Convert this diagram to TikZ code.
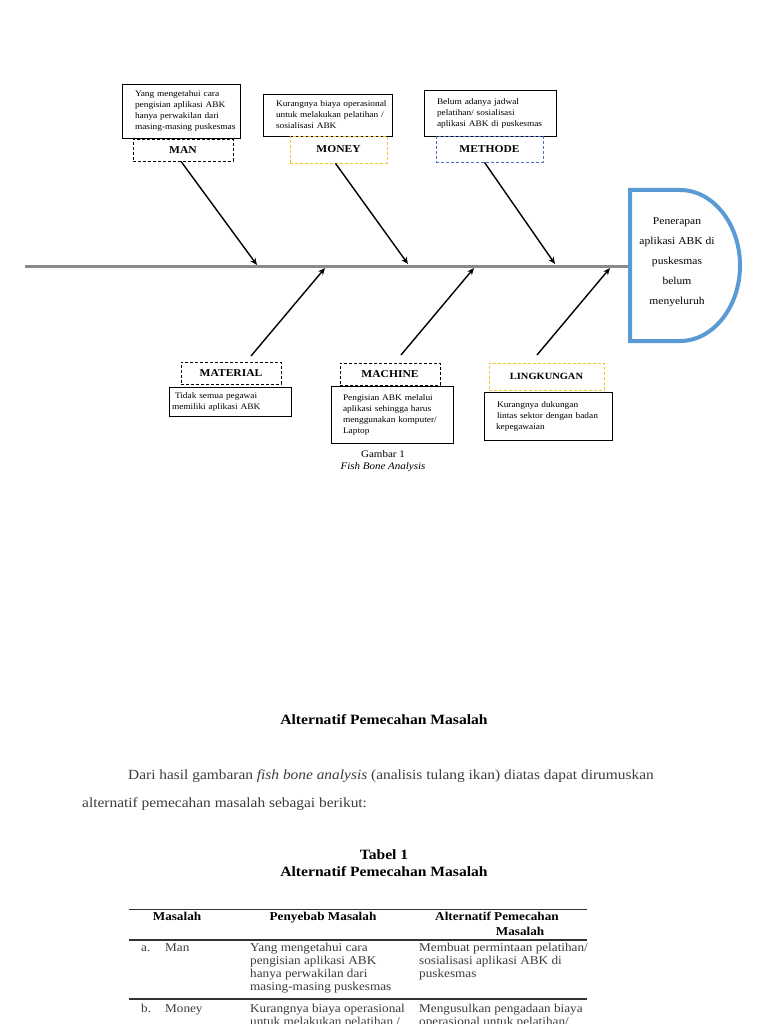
\documentclass[tikz,border=0pt]{standalone}
\usepackage{fontspec}
\setmainfont{Liberation Serif}[FakeStretch=1.1]
\usetikzlibrary{arrows.meta}
\definecolor{headblue}{HTML}{5B9BD5}
\definecolor{goldy}{HTML}{F5C531}
\definecolor{dblue}{HTML}{4A72C0}
\definecolor{spinegray}{HTML}{8A8A8A}
\definecolor{bodygray}{HTML}{3C3C3C}
\newcommand{\ind}[1]{\hspace*{#1pt}}
\tikzset{
  tbox/.style={draw, line width=0.8pt, align=left, inner ysep=2pt, inner xsep=1pt, font=\fontsize{8.5}{11}\selectfont},
  lbox/.style={draw, dashed, dash pattern=on 3pt off 2pt, line width=0.8pt, font=\fontsize{10.5}{12}\selectfont\bfseries, inner sep=0pt},
  bone/.style={draw=black, line width=1.4pt, -{Stealth[length=7pt,width=6pt]}},
  bodytext/.style={text=bodygray, font=\fontsize{14}{16}\selectfont, inner sep=0pt},
  ttext/.style={text=bodygray, font=\fontsize{12}{13}\selectfont, inner sep=0pt, align=left, anchor=north west},
  thead/.style={font=\fontsize{12}{13}\selectfont\bfseries, inner sep=0pt, anchor=base},
  trule/.style={line width=1pt, draw=black!80}
}
\begin{document}
\begin{tikzpicture}[x=1pt,y=-1pt]
\useasboundingbox (0,0) rectangle (768,1024);
\fill[white] (0,0) rectangle (768,1024);
% spine
\coordinate (tail) at (25,266);
\coordinate (headw) at (630,266);
\draw[spinegray, line width=3pt] (tail) -- (headw);
% head
\draw[headblue, line width=4pt, line join=miter]
  (680,190) -- (630,190) -- (630,341) -- (680,341)
  .. controls (713,341) and (740,307) .. (740,265.5)
  .. controls (740,224) and (713,190) .. (680,190) -- cycle;
\node[align=center, font=\fontsize{10.5}{20}\selectfont] (problem) at (677,262)
  {Penerapan\\aplikasi ABK di\\puskesmas\\belum\\menyeluruh};
% top causes
\node[tbox, minimum width=118pt, minimum height=54pt, text width=116pt] (mantxt) at (181,111)
  {\ind{12}Yang mengetahui cara\\\ind{12}pengisian aplikasi ABK\\\ind{12}hanya perwakilan dari\\\ind{12}masing-masing puskesmas};
\node[lbox, minimum width=100pt, minimum height=22pt] (man) at (183,150) {MAN};
\node[tbox, minimum width=129pt, minimum height=42pt, text width=127pt] (moneytxt) at (327.5,115)
  {\ind{12}Kurangnya biaya operasional\\\ind{12}untuk melakukan pelatihan /\\\ind{12}sosialisasi ABK};
\node[lbox, draw=goldy, minimum width=97pt, minimum height=27pt] (money) at (338.5,149.5) {MONEY};
\node[tbox, minimum width=132pt, minimum height=46pt, text width=130pt] (methtxt) at (490,113)
  {\ind{12}Belum adanya jadwal\\\ind{12}pelatihan/ sosialisasi\\\ind{12}aplikasi ABK di puskesmas};
\node[lbox, draw=dblue, minimum width=107pt, minimum height=26pt] (meth) at (489.5,149) {METHODE};
% bottom causes
\node[lbox, minimum width=100pt, minimum height=22pt] (mat) at (231,373) {MATERIAL};
\node[tbox, minimum width=122pt, minimum height=29pt, text width=120pt] (mattxt) at (230,401.5)
  {\ind{5}Tidak semua pegawai\\\ind{2}memiliki aplikasi ABK};
\node[lbox, minimum width=100pt, minimum height=22pt] (mach) at (390,374) {MACHINE};
\node[tbox, minimum width=122pt, minimum height=57pt, text width=120pt] (machtxt) at (392,414.5)
  {\ind{11}Pengisian ABK melalui\\\ind{11}aplikasi sehingga harus\\\ind{11}menggunakan komputer/\\\ind{11}Laptop};
\node[lbox, draw=goldy, minimum width=115pt, minimum height=27pt, font=\fontsize{9.5}{11}\selectfont\bfseries] (ling) at (546.5,376.5) {LINGKUNGAN};
\node[tbox, minimum width=128pt, minimum height=48pt, text width=126pt] (lingtxt) at (548,416)
  {\ind{12}Kurangnya dukungan\\\ind{12}lintas sektor dengan badan\\\ind{11}kepegawaian};
% bones
\coordinate (e1) at (257,265); \coordinate (e2) at (408,264); \coordinate (e3) at (555,264);
\coordinate (e4) at (325,268); \coordinate (e5) at (474,268); \coordinate (e6) at (610,268);
\coordinate (s4) at (251,356); \coordinate (s5) at (401,355); \coordinate (s6) at (537,355);
\draw[bone] ([xshift=-2pt]man.south) -- (e1);
\draw[bone] ([xshift=-3pt]money.south) -- (e2);
\draw[bone] ([xshift=-5pt]meth.south) -- (e3);
\draw[bone] (s4) -- (e4);
\draw[bone] (s5) -- (e5);
\draw[bone] (s6) -- (e6);
% caption
\node[font=\fontsize{10}{12}\selectfont, inner sep=0pt] (cap1) at (383,454) {Gambar 1};
\node[font=\fontsize{10}{12}\selectfont\itshape, inner sep=0pt] (cap2) at (383,467) {Fish Bone Analysis};
% text below
\node[font=\fontsize{14.2}{16}\selectfont\bfseries, inner sep=0pt] (title) at (384,720) {Alternatif Pemecahan Masalah};
\node[bodytext, anchor=west] (p1) at (128,776) {Dari hasil gambaran \textit{fish bone analysis} (analisis tulang ikan) diatas dapat dirumuskan};
\node[bodytext, anchor=west] (p2) at (82,804) {alternatif pemecahan masalah sebagai berikut:};
\node[font=\fontsize{14.2}{16}\selectfont\bfseries, inner sep=0pt] (tab1) at (384,855) {Tabel 1};
\node[font=\fontsize{14.2}{16}\selectfont\bfseries, inner sep=0pt] (tab2) at (384,872) {Alternatif Pemecahan Masalah};
% table
\coordinate (r1l) at (129,909); \coordinate (r1r) at (587,909);
\coordinate (r2l) at (129,940); \coordinate (r2r) at (587,940);
\coordinate (r3l) at (129,999); \coordinate (r3r) at (587,999);
\draw[trule] (r1l) -- (r1r);
\draw[trule, line width=1.3pt] (r2l) -- (r2r);
\draw[trule, line width=1.3pt] (r3l) -- (r3r);
\node[thead] (h1) at (177,920) {Masalah};
\node[thead] (h2) at (323,920) {Penyebab Masalah};
\node[thead] (h3) at (497,920) {Alternatif Pemecahan};
\node[thead] (h3b) at (520,935) {Masalah};
\node[ttext] (a1) at (141,942) {\strut a.};
\node[ttext] (a2) at (165,942) {\strut Man};
\node[ttext] (a3) at (250,942) {\strut Yang mengetahui cara\\pengisian aplikasi ABK\\hanya perwakilan dari\\masing-masing puskesmas};
\node[ttext] (a4) at (419,942) {\strut Membuat permintaan pelatihan/\\sosialisasi aplikasi ABK di\\puskesmas};
\node[ttext] (b1) at (141,1003) {\strut b.};
\node[ttext] (b2) at (165,1003) {\strut Money};
\node[ttext] (b3) at (250,1003) {\strut Kurangnya biaya operasional\\untuk melakukan pelatihan /};
\node[ttext] (b4) at (419,1003) {\strut Mengusulkan pengadaan biaya\\operasional untuk pelatihan/};
\end{tikzpicture}
\end{document}
